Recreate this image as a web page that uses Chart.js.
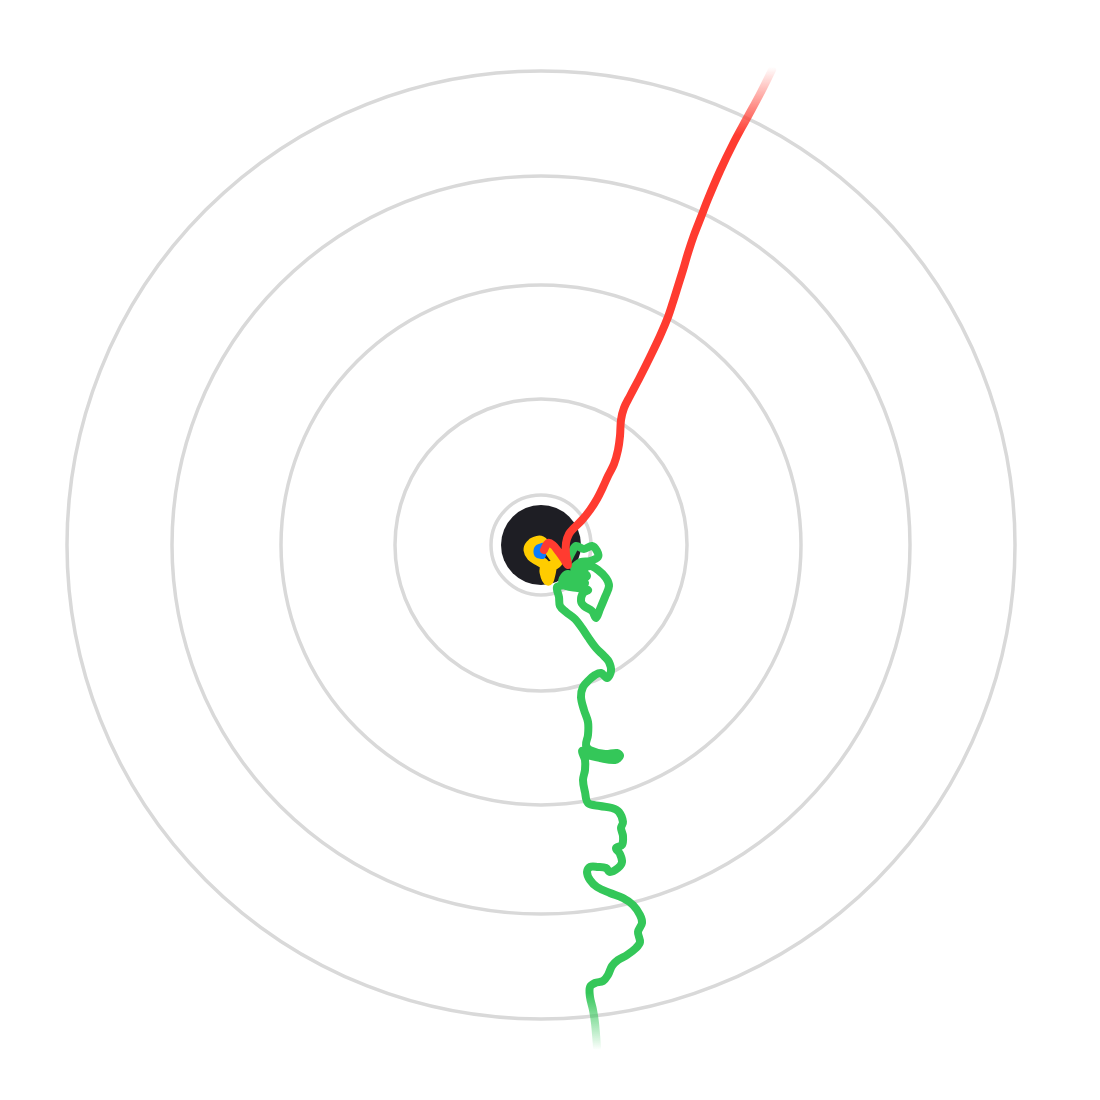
<!DOCTYPE html>
<html>
<head>
<meta charset="utf-8">
<script src="https://cdn.jsdelivr.net/npm/chart.js@4/dist/chart.umd.min.js"></script>
<style>
  html, body { margin: 0; padding: 0; background: #ffffff; }
  #wrap { width: 1100px; height: 1100px; position: relative; }
</style>
</head>
<body>
<div id="wrap"><canvas id="myChart"></canvas></div>
<script>
// track offsets from the target centre (x right, y up)
var redTrack = [
  [3,-5],[7,2],[12,0],[17,-6],[22,-13],[27,-20],[25,-9],[25,2],[28,11],[33,17],
  [41,25],[49,35],[56,46],[62,58],[67,69],[73,81],[77,95],[79,109],[80,125],[83,137],
  [89,149],[99,168],[109,188],[119,209],[127,228],[132,243],[137,259],[142,275],[147,292],[153,310],
  [160,328],[167,346],[179,374],[192,401],[206,427],[219,451],[231,475]
];
var greenTrack = [
  [26,-17],[31,-7],[35,-1],[43,-4],[51,-1],[56,-6],[57,-12],[49,-16],[40,-17],[33,-23],
  [40,-26],[46,-31],[38,-34],[31,-29],[34,-38],[44,-38],
  [27,-29],[21,-36],[25,-41],[37,-43],[47,-45],[42,-48],[40,-56],[43,-61],[51,-66],[55,-73],
  [59,-64],[64,-52],[68,-41],[65,-33],[57,-25],[49,-21],[39,-26],[31,-34],[23,-40],[16,-42],
  [18,-52],[19,-61],[25,-67],[34,-74],[41,-83],[47,-92],[55,-103],[63,-111],[68,-117],[70,-126],
  [66,-133],[60,-128],[54,-130],[48,-135],[42,-142],[40,-152],[43,-165],[47,-177],[47,-190],[45,-200],
  [49,-205],[64,-209],[76,-208],[79,-211],[74,-215],[59,-213],[47,-210],[41,-206],[44,-215],[44,-225],
  [42,-235],[44,-247],[47,-258],[59,-261],[71,-263],[78,-267],[82,-277],[80,-283],[82,-291],[81,-300],
  [75,-303],[79,-309],[81,-317],[77,-323],[69,-327],[65,-323],[57,-322],[49,-322],[46,-327],[49,-335],
  [56,-342],[69,-348],[82,-353],[92,-360],[99,-370],[101,-378],[97,-387],[99,-397],[95,-403],[86,-410],
  [77,-415],[71,-421],[67,-430],[62,-436],[54,-438],[49,-442],[49,-452],[52,-465],[54,-478],[56,-502]
];
var yellowTrack = [
  [-8,2],[-1,4],[6,-2],[12,-10],[16,-17],[11,-21],[9,-29],[7,-35],[4,-27],[4,-20],
  [-3,-15],[-9,-11],[-12,-5],[-10,0],[-6,2]
];
var blueTrack = [
  [1,-2],[-3,-4],[-3,-9],[1,-10]
];

var ringRadii = [50, 146, 260, 369, 474];
var discRadius = 40;

var redFade = [410, 478];
var greenFade = [-448, -505];

function radiusPx(chart, r) {
    var s = chart.scales.x;
    return s.getPixelForValue(r) - s.getPixelForValue(0);
}

function fadeColor(rgb, range) {
    return function(context) {
        var chart = context.chart;
        if (!chart.chartArea) return 'rgb(' + rgb + ')';
        var y = chart.scales.y;
        var g = chart.ctx.createLinearGradient(0, y.getPixelForValue(range[0]), 0, y.getPixelForValue(range[1]));
        g.addColorStop(0, 'rgba(' + rgb + ',1)');
        g.addColorStop(1, 'rgba(' + rgb + ',0)');
        return g;
    };
}

var lineBase = {
    showLine: true,
    pointRadius: 0,
    pointHoverRadius: 0,
    tension: 0.35,
    borderCapStyle: 'round',
    borderJoinStyle: 'round',
    fill: false
};

var ctx = document.getElementById('myChart').getContext('2d');

var myChart = new Chart(ctx, {
    type: 'scatter',
    data: {
        datasets: [
            Object.assign({}, lineBase, {
                label: 'red',
                data: redTrack,
                borderColor: fadeColor('255,59,48', redFade),
                borderWidth: 8,
                order: 0
            }),
            Object.assign({}, lineBase, {
                label: 'blue',
                data: blueTrack,
                borderColor: '#0a7cff',
                borderWidth: 8,
                order: 1
            }),
            Object.assign({}, lineBase, {
                label: 'yellow',
                data: yellowTrack,
                borderColor: '#ffcc00',
                borderWidth: 11,
                order: 2
            }),
            Object.assign({}, lineBase, {
                label: 'green',
                data: greenTrack,
                borderColor: fadeColor('52,199,89', greenFade),
                borderWidth: 8,
                order: 3
            }),
            {
                label: 'disc',
                data: [[0, 0]],
                pointRadius: function(c) { return radiusPx(c.chart, discRadius); },
                pointBackgroundColor: '#1e1e24',
                pointBorderWidth: 0,
                clip: false,
                order: 4
            },
            {
                label: 'rings',
                data: ringRadii.map(function() { return [0, 0]; }),
                pointRadius: function(c) { return radiusPx(c.chart, ringRadii[c.dataIndex]); },
                pointBackgroundColor: 'rgba(0,0,0,0)',
                pointBorderColor: '#d9d9d9',
                pointBorderWidth: 3.5,
                clip: false,
                order: 5
            }
        ]
    },
    options: {
        responsive: true,
        maintainAspectRatio: false,
        animation: false,
        events: [],
        layout: { padding: 0, autoPadding: false },
        plugins: {
            legend: { display: false },
            tooltip: { enabled: false }
        },
        scales: {
            x: { type: 'linear', min: -541, max: 559, display: false },
            y: { type: 'linear', min: -555, max: 545, display: false }
        }
    }
});
</script>
</body>
</html>
